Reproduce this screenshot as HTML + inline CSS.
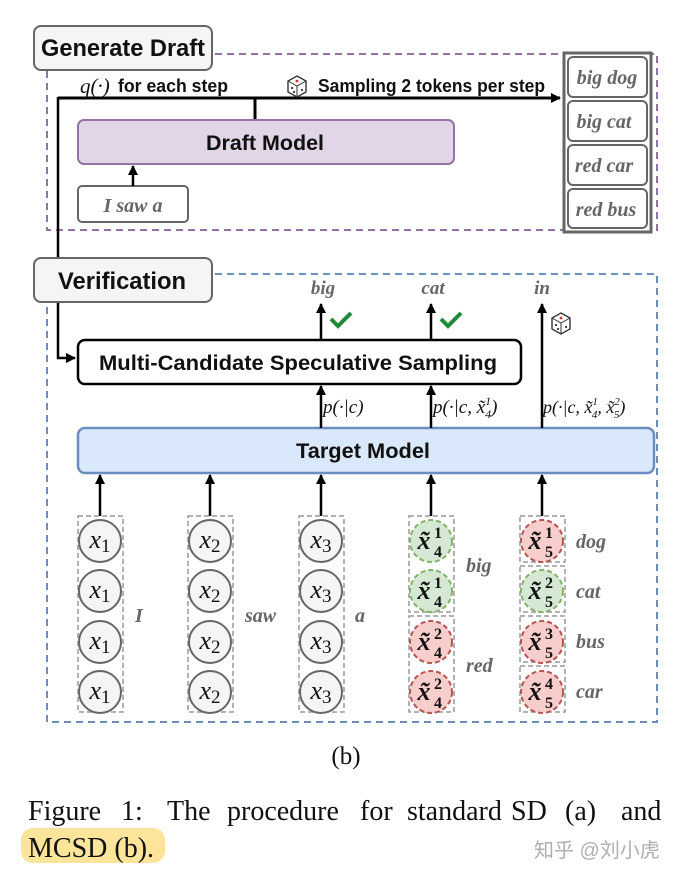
<!DOCTYPE html>
<html><head><meta charset="utf-8"><style>
html,body{margin:0;padding:0;background:#fff;width:676px;height:876px;overflow:hidden}
svg{display:block}
.b{font-family:"Liberation Sans Narrow","Liberation Sans",sans-serif;font-weight:bold;fill:#111}
.it{font-family:"Liberation Serif",serif;font-style:italic;font-weight:bold;fill:#666}
.m{font-family:"Liberation Serif",serif;font-style:italic;fill:#111}
.s{font-family:"Liberation Serif",serif;fill:#111}
.n{font-family:"Liberation Serif",serif;fill:#111;font-weight:bold}
</style></head><body>
<svg width="676" height="876" viewBox="0 0 676 876" xmlns="http://www.w3.org/2000/svg">
<defs>
<marker id="ar" markerWidth="10" markerHeight="10" refX="9" refY="5" orient="auto" markerUnits="userSpaceOnUse">
<path d="M0,0 L10,5 L0,10 z" fill="#000"/></marker>
<g id="dice"><path d="M0,-10 L9,-5 L9,6 L0,11 L-9,6 L-9,-5 z" fill="#fff" stroke="#333" stroke-width="1.4"/><path d="M-9,-5 L0,0 L9,-5 M0,0 L0,11" fill="none" stroke="#333" stroke-width="1"/><circle cx="0" cy="-5" r="1.4" fill="#c33"/><circle cx="-5" cy="2" r="1.1" fill="#333"/><circle cx="-3" cy="6" r="1.1" fill="#333"/><circle cx="5" cy="4" r="1.1" fill="#333"/></g>
<path id="chk" d="M0,6 L7,13 L20,0" fill="none" stroke="#1f8a3a" stroke-width="4"/>
</defs>

<rect x="47" y="54" width="610" height="176" fill="none" stroke="#9673a6" stroke-width="2" stroke-dasharray="7,5"/>
<rect x="34" y="26" width="178" height="44" rx="7" fill="#f5f5f5" stroke="#666" stroke-width="2"/>
<text x="123" y="56" text-anchor="middle" class="b" font-size="24" textLength="164" lengthAdjust="spacingAndGlyphs">Generate Draft</text>

<rect x="564" y="53" width="87" height="179" fill="#fff" stroke="#666" stroke-width="3"/>
<g fill="#fff" stroke="#666" stroke-width="2">
<rect x="568" y="57" width="79" height="40" rx="5"/>
<rect x="568" y="101" width="79" height="40" rx="5"/>
<rect x="568" y="145" width="79" height="40" rx="5"/>
<rect x="568" y="189" width="79" height="39" rx="5"/>
</g>
<g class="it" font-size="20" text-anchor="middle">
<text x="607" y="84">big dog</text><text x="604" y="128">big cat</text>
<text x="604" y="172">red car</text><text x="606" y="216">red bus</text></g>

<path d="M58,98 L560,98" stroke="#000" stroke-width="3" marker-end="url(#ar)"/>
<path d="M255,98 L255,121" stroke="#000" stroke-width="3"/>
<path d="M58,97 L58,358 L75,358" stroke="#000" stroke-width="2.5" fill="none" marker-end="url(#ar)"/>
<text x="80" y="93" class="m" font-size="21">q(·)</text>
<text x="118" y="92" class="b" font-size="18" textLength="110" lengthAdjust="spacingAndGlyphs">for each step</text>
<use href="#dice" x="297" y="86"/>
<text x="318" y="92" class="b" font-size="18" textLength="227" lengthAdjust="spacingAndGlyphs">Sampling 2 tokens per step</text>

<rect x="78" y="120" width="376" height="44" rx="6" fill="#e1d5e7" stroke="#9673a6" stroke-width="2"/>
<text x="265" y="150" text-anchor="middle" class="b" font-size="21" textLength="118" lengthAdjust="spacingAndGlyphs">Draft Model</text>
<rect x="78" y="186" width="110" height="36" rx="4" fill="#fff" stroke="#666" stroke-width="2"/>
<text x="133" y="212" text-anchor="middle" class="it" font-size="20">I  saw  a</text>
<path d="M133,186 L133,166" stroke="#000" stroke-width="2.5" marker-end="url(#ar)"/>

<rect x="47" y="274" width="610" height="448" fill="none" stroke="#6c8ebf" stroke-width="2" stroke-dasharray="7,5"/>
<rect x="34" y="258" width="178" height="44" rx="7" fill="#f5f5f5" stroke="#666" stroke-width="2"/>
<text x="122" y="289" text-anchor="middle" class="b" font-size="24" textLength="128" lengthAdjust="spacingAndGlyphs">Verification</text>

<rect x="78" y="340" width="443" height="44" rx="7" fill="#fff" stroke="#000" stroke-width="2.5"/>
<text x="298" y="370" text-anchor="middle" class="b" font-size="21" textLength="398" lengthAdjust="spacingAndGlyphs">Multi-Candidate Speculative Sampling</text>
<rect x="78" y="428" width="576" height="45" rx="7" fill="#dae8fc" stroke="#6c8ebf" stroke-width="2.5"/>
<text x="363" y="458" text-anchor="middle" class="b" font-size="21" textLength="134" lengthAdjust="spacingAndGlyphs">Target Model</text>

<g stroke="#000" stroke-width="2.5">
<path d="M321,340 L321,304" marker-end="url(#ar)"/>
<path d="M431,340 L431,304" marker-end="url(#ar)"/>
<path d="M542,428 L542,304" marker-end="url(#ar)"/>
<path d="M321,428 L321,386" marker-end="url(#ar)"/>
<path d="M431,428 L431,386" marker-end="url(#ar)"/>
<path d="M100,516 L100,475" marker-end="url(#ar)"/>
<path d="M210,516 L210,475" marker-end="url(#ar)"/>
<path d="M321,516 L321,475" marker-end="url(#ar)"/>
<path d="M431,516 L431,475" marker-end="url(#ar)"/>
<path d="M542,516 L542,475" marker-end="url(#ar)"/>
</g>
<g class="it" font-size="19" text-anchor="middle">
<text x="323" y="294">big</text><text x="433" y="294">cat</text><text x="542" y="294">in</text></g>
<use href="#chk" x="331" y="313"/><use href="#chk" x="441" y="313"/>
<use href="#dice" x="561" y="323"/>
<g class="m" font-size="19">
<text x="323" y="413">p(·|c)</text>
<text x="433" y="413">p(·|c, x̃<tspan font-size="12" dy="-8">1</tspan><tspan font-size="12" dx="-6" dy="13">4</tspan><tspan dy="-5">)</tspan></text>
<text x="543" y="413" font-size="18">p(·|c, x̃<tspan font-size="11" dy="-8">1</tspan><tspan font-size="11" dx="-6" dy="13">4</tspan><tspan dy="-5">, x̃</tspan><tspan font-size="11" dy="-8">2</tspan><tspan font-size="11" dx="-6" dy="13">5</tspan><tspan dy="-5">)</tspan></text>
</g>

<g fill="none" stroke="#999" stroke-width="1.5" stroke-dasharray="5,3">
<rect x="78" y="516" width="45" height="196"/><rect x="188" y="516" width="45" height="196"/>
<rect x="299" y="516" width="45" height="196"/>
<rect x="409" y="516" width="45" height="96"/><rect x="409" y="616" width="45" height="96"/>
<rect x="520" y="516" width="45" height="46"/><rect x="520" y="566" width="45" height="46"/>
<rect x="520" y="616" width="45" height="46"/><rect x="520" y="666" width="45" height="46"/>
</g>
<g stroke="#666" stroke-width="2" fill="#f5f5f5">
<circle cx="100" cy="541" r="21"/><circle cx="100" cy="591" r="21"/><circle cx="100" cy="642" r="21"/><circle cx="100" cy="692" r="21"/>
<circle cx="210" cy="541" r="21"/><circle cx="210" cy="591" r="21"/><circle cx="210" cy="642" r="21"/><circle cx="210" cy="692" r="21"/>
<circle cx="321" cy="541" r="21"/><circle cx="321" cy="591" r="21"/><circle cx="321" cy="642" r="21"/><circle cx="321" cy="692" r="21"/>
</g>
<g stroke-width="2" stroke-dasharray="5,3">
<circle cx="431" cy="541" r="21" fill="#d5e8d4" stroke="#82b366"/><circle cx="431" cy="591" r="21" fill="#d5e8d4" stroke="#82b366"/>
<circle cx="431" cy="642" r="21" fill="#f8cecc" stroke="#b85450"/><circle cx="431" cy="692" r="21" fill="#f8cecc" stroke="#b85450"/>
<circle cx="542" cy="541" r="21" fill="#f8cecc" stroke="#b85450"/><circle cx="542" cy="591" r="21" fill="#d5e8d4" stroke="#82b366"/>
<circle cx="542" cy="642" r="21" fill="#f8cecc" stroke="#b85450"/><circle cx="542" cy="692" r="21" fill="#f8cecc" stroke="#b85450"/>
</g>
<g class="m" font-size="26" text-anchor="middle">
<text x="100" y="548">x<tspan font-style="normal" font-size="19" dy="4">1</tspan></text>
<text x="100" y="598">x<tspan font-style="normal" font-size="19" dy="4">1</tspan></text>
<text x="100" y="649">x<tspan font-style="normal" font-size="19" dy="4">1</tspan></text>
<text x="100" y="699">x<tspan font-style="normal" font-size="19" dy="4">1</tspan></text>
<text x="210" y="548">x<tspan font-style="normal" font-size="19" dy="4">2</tspan></text>
<text x="210" y="598">x<tspan font-style="normal" font-size="19" dy="4">2</tspan></text>
<text x="210" y="649">x<tspan font-style="normal" font-size="19" dy="4">2</tspan></text>
<text x="210" y="699">x<tspan font-style="normal" font-size="19" dy="4">2</tspan></text>
<text x="321" y="548">x<tspan font-style="normal" font-size="19" dy="4">3</tspan></text>
<text x="321" y="598">x<tspan font-style="normal" font-size="19" dy="4">3</tspan></text>
<text x="321" y="649">x<tspan font-style="normal" font-size="19" dy="4">3</tspan></text>
<text x="321" y="699">x<tspan font-style="normal" font-size="19" dy="4">3</tspan></text>
</g>
<g class="m" font-size="26" font-weight="bold" text-anchor="middle">
<text x="424" y="549">x̃</text><text x="424" y="599">x̃</text><text x="424" y="650">x̃</text><text x="424" y="700">x̃</text>
<text x="535" y="549">x̃</text><text x="535" y="599">x̃</text><text x="535" y="650">x̃</text><text x="535" y="700">x̃</text>
</g>
<g class="n" font-size="16" text-anchor="middle">
<text x="438" y="538">1</text><text x="438" y="557">4</text>
<text x="438" y="588">1</text><text x="438" y="607">4</text>
<text x="438" y="639">2</text><text x="438" y="658">4</text>
<text x="438" y="689">2</text><text x="438" y="708">4</text>
<text x="549" y="538">1</text><text x="549" y="557">5</text>
<text x="549" y="588">2</text><text x="549" y="607">5</text>
<text x="549" y="639">3</text><text x="549" y="658">5</text>
<text x="549" y="689">4</text><text x="549" y="708">5</text>
</g>
<g class="it" font-size="20">
<text x="135" y="622">I</text><text x="245" y="622">saw</text><text x="355" y="622">a</text>
<text x="466" y="572">big</text><text x="466" y="672">red</text>
<text x="576" y="548">dog</text><text x="576" y="598">cat</text><text x="576" y="648">bus</text><text x="576" y="698">car</text>
</g>

<text x="346" y="764" text-anchor="middle" class="s" font-size="25">(b)</text>
<rect x="21" y="828" width="144" height="35" rx="12" fill="#fbe08a" opacity="0.85"/>
<g class="s" font-size="28">
<text x="28" y="820">Figure</text><text x="121" y="820">1:</text><text x="167" y="820">The</text>
<text x="227" y="820">procedure</text><text x="360" y="820">for</text><text x="407" y="820">standard</text>
<text x="511" y="820">SD</text><text x="565" y="820">(a)</text><text x="621" y="820">and</text>
<text x="28" y="857">MCSD (b).</text>
</g>
<text x="534" y="857" font-family="'Liberation Sans','Noto Sans CJK SC',sans-serif" font-size="20" fill="#b0b0b0">知乎 @刘小虎</text>
</svg>
</body></html>
